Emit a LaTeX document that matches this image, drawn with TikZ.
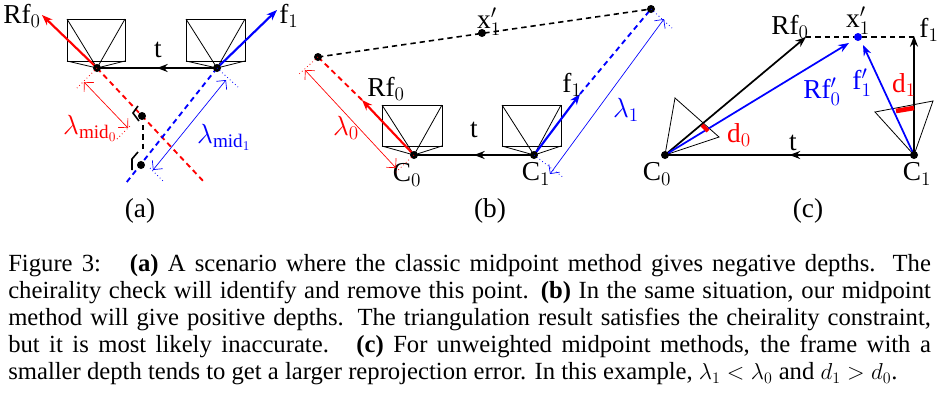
\documentclass[tikz,border=0pt]{standalone}
\usepackage{fontspec}
\setmainfont{Liberation Serif}
\usetikzlibrary{arrows.meta,decorations.markings}
\definecolor{myblue}{RGB}{0,0,255}
\definecolor{myred}{RGB}{255,0,0}
\begin{document}
\begin{tikzpicture}[x=0.75pt,y=-0.75pt,
 lbl/.style={inner sep=0pt,font=\fontsize{20.5}{20.5}\selectfont},
 pt/.style={circle,fill=black,inner sep=0pt,minimum size=6pt},
 vec/.style={line width=1.6pt,-{Stealth[length=8pt,width=6pt]}},
 thin2/.style={line width=0.5pt,{Straight Barb[length=5pt]}-{Straight Barb[length=5pt]}},
 dotl/.style={line width=0.6pt,dotted},
 dashl/.style={line width=1.4pt,dash pattern=on 4pt off 3pt},
 tarrow/.style={line width=1.4pt,postaction={decorate},decoration={markings,mark=at position 0.5 with {\arrow{Stealth[length=8pt,width=6pt]}}}}]
\useasboundingbox (0,0) rectangle (940,401);
% ---------- (a)
\coordinate (aC0) at (97,68); \coordinate (aC1) at (217,68);
\foreach \c/\l/\r in {aC0/67/125,aC1/186/245}{
 \draw[line width=0.6pt] (\l,19) rectangle (\r,61);
 \draw[line width=0.6pt] (\l,61)--(\c)--(\r,61) (\l,19)--(\c)--(\r,19);}
\draw[dashl,myred] (aC0)--(205,183);
\draw[dashl,myblue] (aC1)--(126,183);
\draw[vec,myred] (aC0)--(42,15) coordinate (aR);
\draw[vec,myblue] (aC1)--(277,10) coordinate (aF);
\node[lbl] (aRl) at (22,16) {Rf$_0$};
\node[lbl,anchor=west] (aFl) at (279,16) {f$_1$};
\draw[tarrow] (aC1)--(aC0);
\node[lbl] (at) at (158,50) {t};
\node[pt] (aC0p) at (aC0) {}; \node[pt] (aC1p) at (aC1) {};
\node[pt] (ap1) at (142,116) {}; \node[pt] (ap2) at (141,165) {};
\draw[line width=1.2pt] (138,106)--(133,113)--(139,121);
\draw[line width=1.2pt] (138,152)--(132,159)--(132,170);
\draw[dashl,line width=1.2pt] (143,125)--(143,152);
\draw[dotl,myred] (aC0)--(77,88); \draw[dotl,myred] (117,139)--(131,125);
\draw[thin2,myred] (84,82)--(128,128);
\node[lbl,myred] (aL0) at (90,128) {$\lambda_{\mathrm{mid}_0}$};
\draw[dotl,myblue] (aC1)--(238,87); \draw[dotl,myblue] (150,168)--(163,181);
\draw[thin2,myblue] (226,80)--(153,170);
\node[lbl,myblue] (aL1) at (224,137) {$\lambda_{\mathrm{mid}_1}$};
\node[lbl] (capa) at (140,211) {(a)};
% ---------- (b)
\coordinate (bC0) at (414,155); \coordinate (bC1) at (534,155);
\foreach \c/\l/\r in {bC0/382/442,bC1/502/561}{
 \draw[line width=0.6pt] (\l,105) rectangle (\r,146);
 \draw[line width=0.6pt] (\l,146)--(\c)--(\r,146) (\l,105)--(\c)--(\r,105);}
\coordinate (bX0) at (318,57); \coordinate (bX1) at (651,9);
\draw[dashl,myred] (362,100)--(bX0);
\draw[dashl,myblue] (580,94)--(bX1);
\draw[dashl,line width=1.2pt] (bX0)--(bX1);
\node[pt] (bp0) at (bX0) {}; \node[pt] (bp1) at (bX1) {}; \node[pt] (bpm) at (482,33) {};
\node[lbl] (bxl) at (489,22) {x$'_1$};
\draw[vec,myred] (bC0)--(362,100);
\draw[vec,myblue] (bC1)--(580,94);
\node[lbl] (bRl) at (386,89) {Rf$_0$};
\node[lbl] (bFl) at (572,85) {f$_1$};
\draw[tarrow] (bC1)--(bC0);
\node[lbl] (bt) at (474,130) {t};
\node[pt] (bC0p) at (bC0) {}; \node[pt] (bC1p) at (bC1) {};
\node[lbl] (bC0l) at (407,175) {C$_0$}; \node[lbl] (bC1l) at (536,174) {C$_1$};
\draw[dotl,myred] (bX0)--(298,75); \draw[dotl,myred] (bC0)--(395,173);
\draw[thin2,myred] (305,70)--(396,168);
\node[lbl,myred] (bL0) at (346,128) {$\lambda_0$};
\draw[dotl,myblue] (bX1)--(672,28); \draw[dotl,myblue] (bC1)--(564,178);
\draw[thin2,myblue] (664,19)--(550,174);
\node[lbl,myblue] (bL1) at (626,110) {$\lambda_1$};
\node[lbl] (capb) at (490,211) {(b)};
% ---------- (c)
\coordinate (cC0) at (665,155); \coordinate (cC1) at (914,155);
\draw[line width=0.6pt] (cC0)--(675,98)--(719,137)--cycle;
\draw[line width=0.6pt] (cC1)--(875,112)--(933,101)--cycle;
\draw[tarrow] (cC1)--(cC0);
\node[lbl] (ct) at (793,143) {t};
\draw[dashl,line width=1.2pt] (806,37)--(914,37);
\draw[vec,line width=1.3pt] (cC0)--(806,37);
\draw[vec,line width=1.3pt] (cC1)--(914,36);
\draw[vec,myblue,line width=1.3pt] (cC0)--(849,43);
\draw[vec,myblue,line width=1.3pt] (cC1)--(863,45);
\node[circle,fill=myblue,inner sep=0pt,minimum size=6pt] (cx) at (858,37) {};
\node[lbl] (cxl) at (858,21) {x$'_1$};
\node[lbl] (cRl) at (790,27) {Rf$_0$};
\node[lbl] (cFl) at (929,30) {f$_1$};
\node[lbl,myblue] (cR2) at (822,92) {Rf$'_0$};
\node[lbl,myblue] (cF2) at (862,83) {f$'_1$};
\draw[myred,line width=3pt] (702,125)--(708,131);
\node[lbl,myred] (cd0) at (739,135) {d$_0$};
\draw[myred,line width=3.5pt] (896,111)--(914,108);
\node[lbl,myred] (cd1) at (904,85) {d$_1$};
\node[pt] (cC0p) at (cC0) {}; \node[pt] (cC1p) at (cC1) {};
\node[lbl] (cC0l) at (657,174) {C$_0$}; \node[lbl] (cC1l) at (917,174) {C$_1$};
\node[lbl] (capc) at (808,211) {(c)};
% ---------- caption
\node[anchor=north west,inner sep=0pt,text width=692pt,align=justify,font=\fontsize{18.5}{20.3}\selectfont] (cap) at (8,254) {\sloppy Figure 3:\hspace{0.6em} \textbf{(a)} A scenario where the classic midpoint method gives negative depths. The\linebreak cheirality check will identify and remove this point. \textbf{(b)} In the same situation, our midpoint\linebreak method will give positive depths. The triangulation result satisfies the cheirality constraint,\linebreak but it is most likely inaccurate. \ \textbf{(c)} For unweighted midpoint methods, the frame with a\linebreak smaller depth tends to get a larger reprojection error. In this example, $\lambda_1<\lambda_0$ and $d_1>d_0$.};
\end{tikzpicture}
\end{document}
